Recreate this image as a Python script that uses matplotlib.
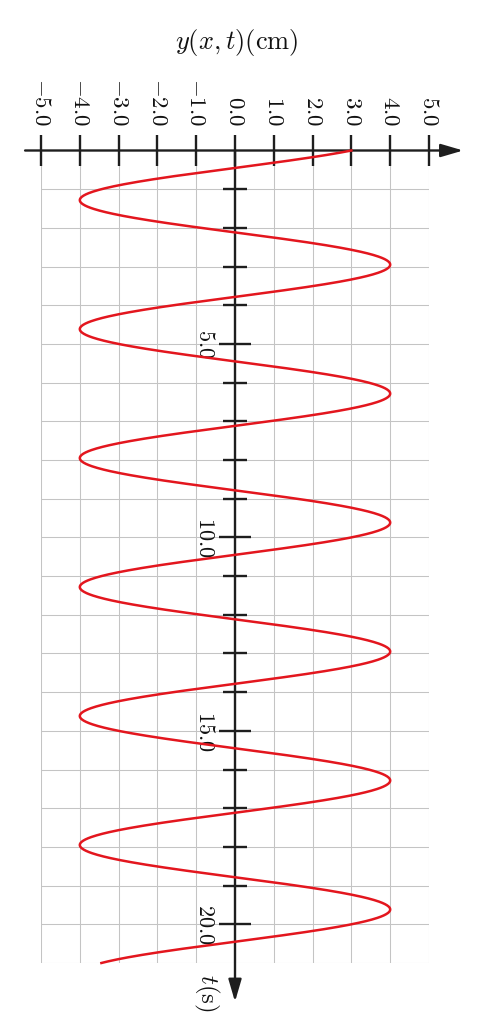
import numpy as np
import matplotlib
matplotlib.use("Agg")
import matplotlib.pyplot as plt

plt.rcParams["mathtext.fontset"] = "cm"
plt.rcParams["font.family"] = "serif"
plt.rcParams["font.serif"] = ["cmr10", "DejaVu Serif"]
plt.rcParams["axes.formatter.use_mathtext"] = True

# values
AMPLITUDE = 4.0          # cm
PERIOD = 10.0 / 3.0      # s, peak-to-peak spacing
Y_AT_T0 = 3.0            # cm, curve starts here and moves down
T_END = 21.0

y_ticks = [-5.0, -4.0, -3.0, -2.0, -1.0, 0.0, 1.0, 2.0, 3.0, 4.0, 5.0]
t_minor = [1, 2, 3, 4, 6, 7, 8, 9, 11, 12, 13, 14, 16, 17, 18, 19]
t_major = [5.0, 10.0, 15.0, 20.0]
t_grid = list(range(1, 22))

AXIS_COLOR = "#1e1e1e"
CURVE_COLOR = "#e3161e"
GRID_COLOR = "#c4c4c4"

W, H = 478, 1024
fig = plt.figure(figsize=(W / 100, H / 100), dpi=100)
# data box: y in [-5, 5] -> x px 41..429, t in [0, 21] -> y px 150.5..963
ax = fig.add_axes([41 / W, 1 - 963 / H, 388 / W, (963 - 150.5) / H])
ax.set_xlim(-5, 5)
ax.set_ylim(T_END, 0)
ax.axis("off")

# grid
ax.vlines(y_ticks, 0, T_END, color=GRID_COLOR, lw=0.75, zorder=1)
ax.hlines(t_grid, -5, 5, color=GRID_COLOR, lw=0.75, zorder=1)

# curve
omega = 2 * np.pi / PERIOD
phi = np.arccos(Y_AT_T0 / AMPLITUDE)
t = np.linspace(0, T_END, 2000)
ax.plot(AMPLITUDE * np.cos(omega * t + phi), t, color=CURVE_COLOR, lw=1.8,
        zorder=4, clip_on=False)

# axes with arrows
arrow = dict(arrowstyle="-|>,head_length=0.75,head_width=0.22", lw=1.7,
             color=AXIS_COLOR, shrinkA=0, shrinkB=0, mutation_scale=18)
ax.annotate("", xy=(5.88, 0), xytext=(-5.41, 0), arrowprops=arrow,
            annotation_clip=False, zorder=3)
ax.annotate("", xy=(0, 22.0), xytext=(0, 0), arrowprops=arrow,
            annotation_clip=False, zorder=3)

# ticks on the y axis (horizontal)
ax.vlines(y_ticks, -0.40, 0.40, color=AXIS_COLOR, lw=1.7, zorder=3,
          clip_on=False)
for v in y_ticks:
    ax.annotate(f"${v:.1f}$", xy=(v, 0), xytext=(0, 24),
                textcoords="offset pixels", ha="center", va="bottom",
                rotation=-90, fontsize=16.5, color="#111111",
                annotation_clip=False)

# ticks on the t axis (vertical)
ax.hlines(t_minor, -0.30, 0.30, color=AXIS_COLOR, lw=1.7, zorder=3)
ax.hlines(t_major, -0.40, 0.40, color=AXIS_COLOR, lw=1.7, zorder=3)
for v in t_major:
    ax.annotate(f"${v:.1f}$", xy=(0, v), xytext=(-20, 0),
                textcoords="offset pixels", ha="right", va="center",
                rotation=-90, fontsize=16, color="#111111",
                annotation_clip=False)

ax.text(-0.73, 21.78, r"$t(\mathrm{s})$", ha="center", va="center",
        rotation=-90, fontsize=18, color="#111111")
fig.text(237 / W, 1 - 43 / H, r"$y(x,t)(\mathrm{cm})$", ha="center",
         va="center", fontsize=19, color="#111111")

fig.savefig("out.png", dpi=100)
